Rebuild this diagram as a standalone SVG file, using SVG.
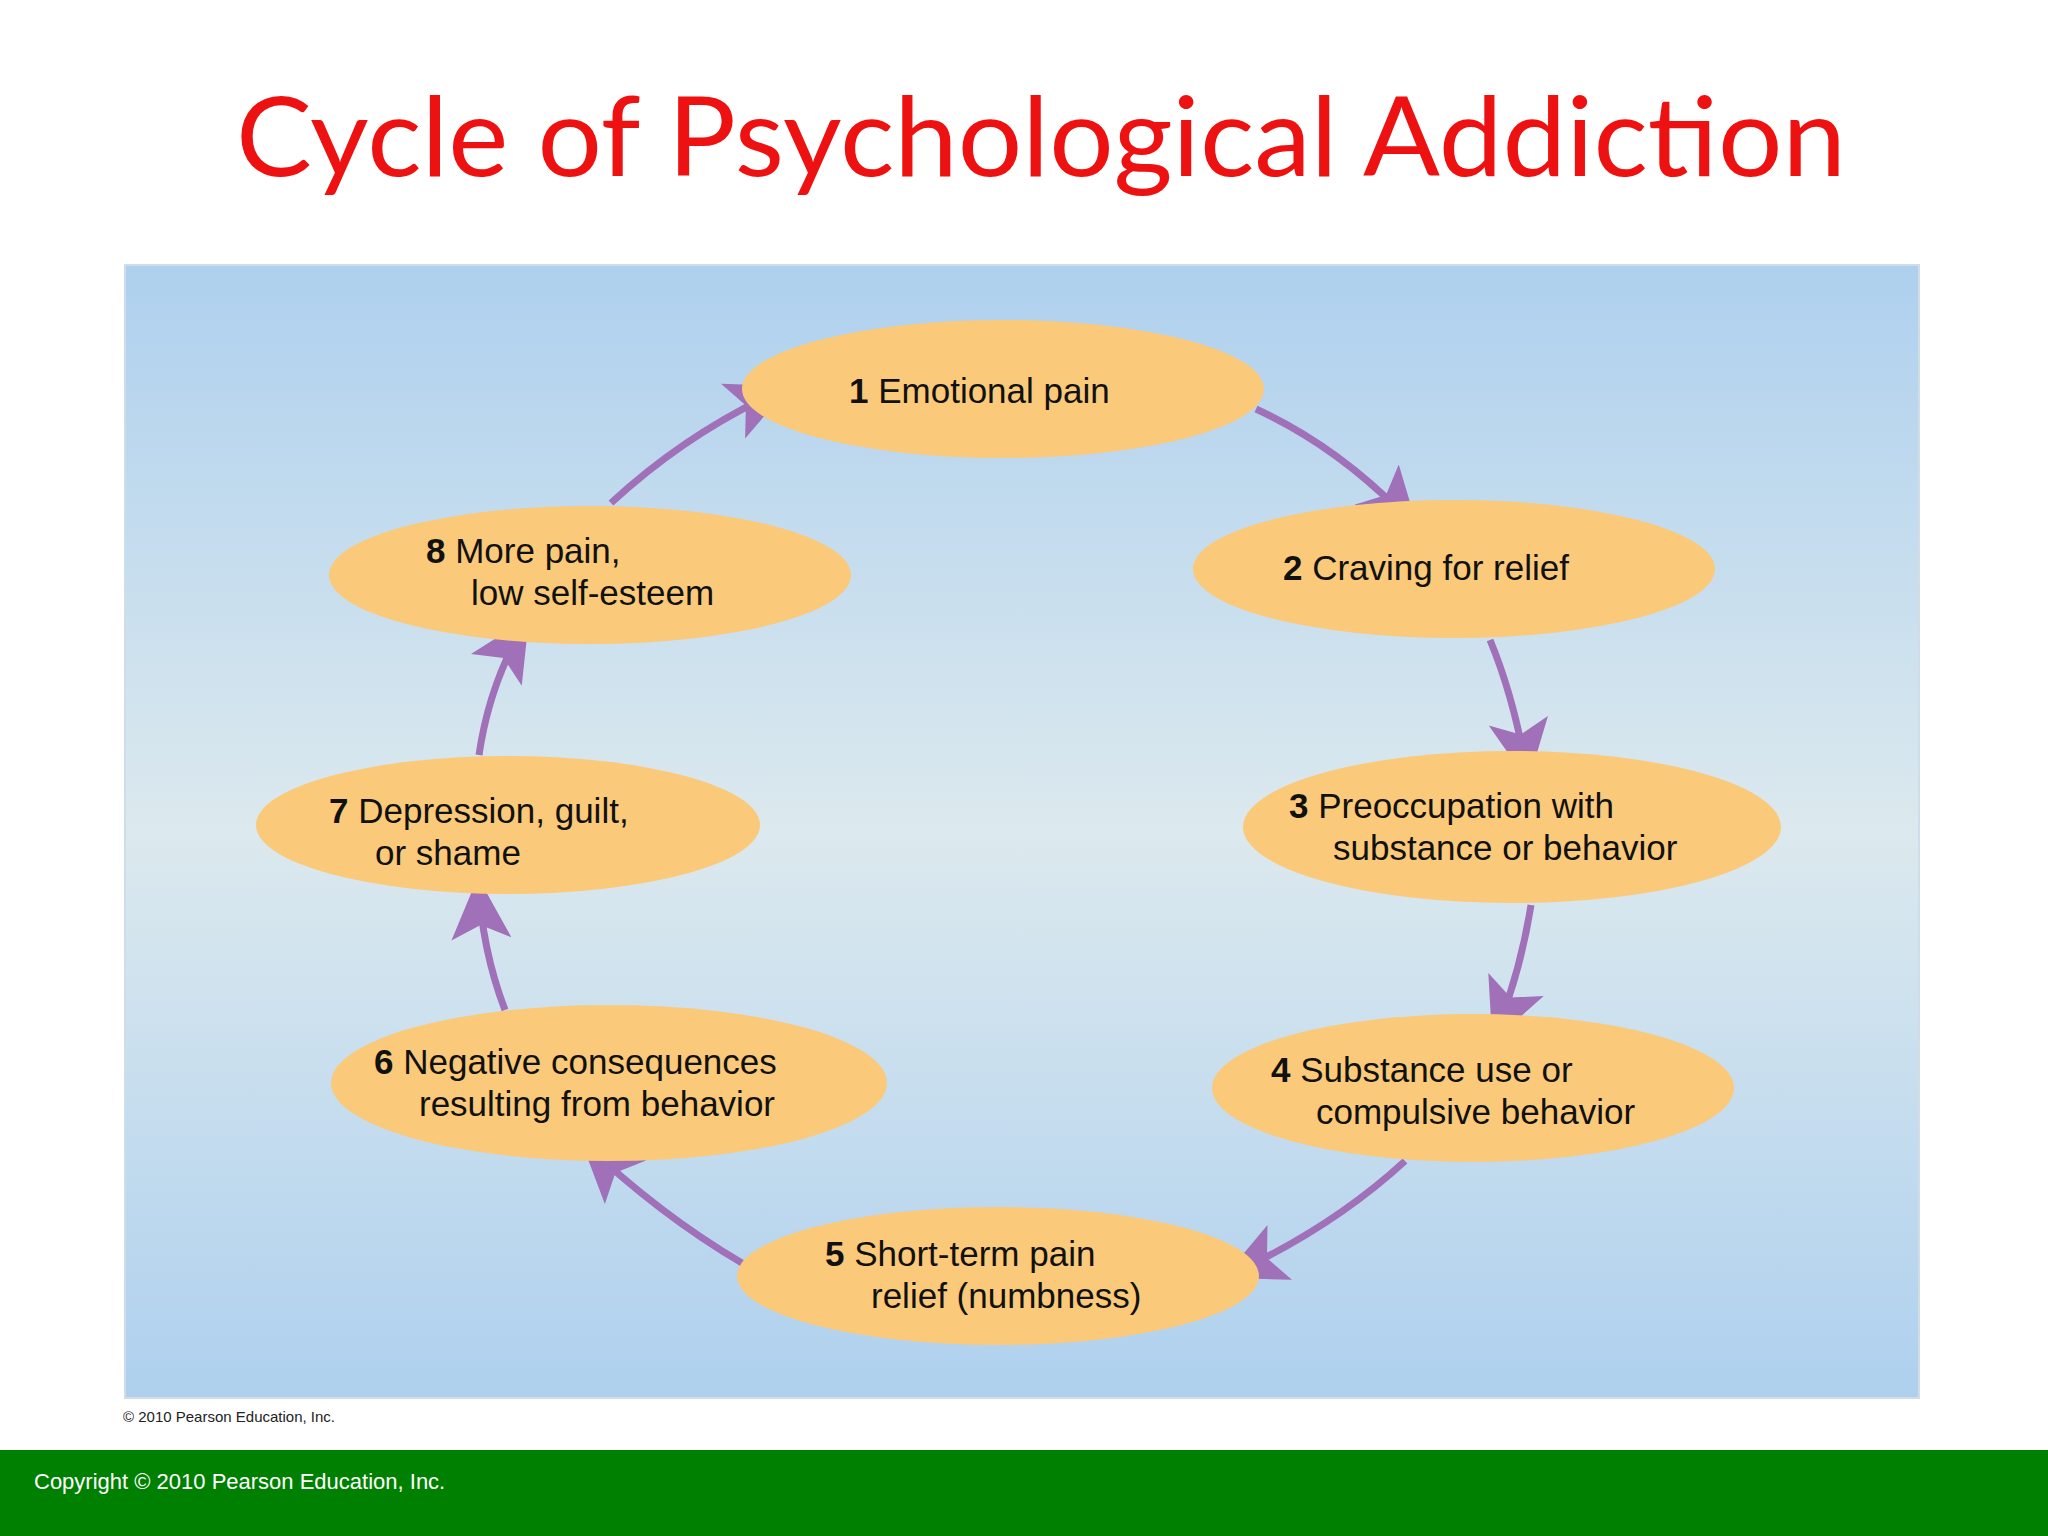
<svg xmlns="http://www.w3.org/2000/svg" width="2048" height="1536" viewBox="0 0 2048 1536">
<defs>
<linearGradient id="bg" x1="0" y1="0" x2="0" y2="1">
<stop offset="0" stop-color="#aed0ee"/>
<stop offset="0.5" stop-color="#dce9ee"/>
<stop offset="1" stop-color="#aed0ee"/>
</linearGradient>
<marker id="ah" markerUnits="userSpaceOnUse" markerWidth="80" markerHeight="70" refX="60" refY="30" orient="auto">
<path d="M0,0 L62,30 L0,60 L14,30 Z" fill="#a070b8"/>
</marker>
<style>
.node ellipse{fill:#fbc97a}
.node text{font-family:"Liberation Sans",Arial,sans-serif;font-size:35px;fill:#111}
.n{font-weight:bold}
.conn path{fill:none;stroke:#a070b8;stroke-width:7;marker-end:url(#ah)}
</style>
</defs>
<rect width="2048" height="1536" fill="#fff"/>
<text x="1041" y="176" text-anchor="middle" font-family="Lato,'Open Sans',sans-serif" font-size="110" fill="#ee1111" textLength="1610" lengthAdjust="spacingAndGlyphs">Cycle of Psychological Addiction</text>
<rect x="125" y="265" width="1794" height="1133" fill="url(#bg)" stroke="#cfdde8" stroke-width="2"/>
<text x="123" y="1422" font-family="'Liberation Sans',Arial,sans-serif" font-size="15" fill="#222">© 2010 Pearson Education, Inc.</text>
<rect x="0" y="1450" width="2048" height="86" fill="#008000"/>
<text x="34" y="1489" font-family="'Liberation Sans',Arial,sans-serif" font-size="22" fill="#fff">Copyright © 2010 Pearson Education, Inc.</text>
<g class="conn">
<path d="M1256,409 Q1345,450 1417,529"/>
<path d="M1490,640 Q1515,700 1528,780"/>
<path d="M1531,905 Q1520,975 1493,1040"/>
<path d="M1405,1161 Q1330,1230 1225,1277"/>
<path d="M742,1263 Q660,1215 582,1141"/>
<path d="M505,1010 Q482,950 478,879"/>
<path d="M479,755 Q490,680 528,619"/>
<path d="M611,503 Q690,430 788,387"/>
</g>
<g id="n1" class="node"><ellipse cx="1003" cy="389" rx="261" ry="69"/><text x="849" y="403"><tspan class="n">1</tspan>  Emotional pain</text></g>
<g id="n2" class="node"><ellipse cx="1454" cy="569" rx="261" ry="69"/><text x="1283" y="580"><tspan class="n">2</tspan>  Craving for relief</text></g>
<g id="n3" class="node"><ellipse cx="1512" cy="827" rx="269" ry="76"/><text x="1289" y="818"><tspan class="n">3</tspan>  Preoccupation with</text><text x="1333" y="860">substance or behavior</text></g>
<g id="n4" class="node"><ellipse cx="1473" cy="1088" rx="261" ry="74"/><text x="1271" y="1082"><tspan class="n">4</tspan>  Substance use or</text><text x="1316" y="1124">compulsive behavior</text></g>
<g id="n5" class="node"><ellipse cx="998" cy="1276" rx="261" ry="69"/><text x="825" y="1266"><tspan class="n">5</tspan>  Short-term pain</text><text x="871" y="1308">relief (numbness)</text></g>
<g id="n6" class="node"><ellipse cx="609" cy="1083" rx="278" ry="78"/><text x="374" y="1074"><tspan class="n">6</tspan>  Negative consequences</text><text x="419" y="1116">resulting from behavior</text></g>
<g id="n7" class="node"><ellipse cx="508" cy="825" rx="252" ry="69"/><text x="329" y="823"><tspan class="n">7</tspan>  Depression, guilt,</text><text x="375" y="865">or shame</text></g>
<g id="n8" class="node"><ellipse cx="590" cy="575" rx="261" ry="69"/><text x="426" y="563"><tspan class="n">8</tspan>  More pain,</text><text x="471" y="605">low self-esteem</text></g>
</svg>
